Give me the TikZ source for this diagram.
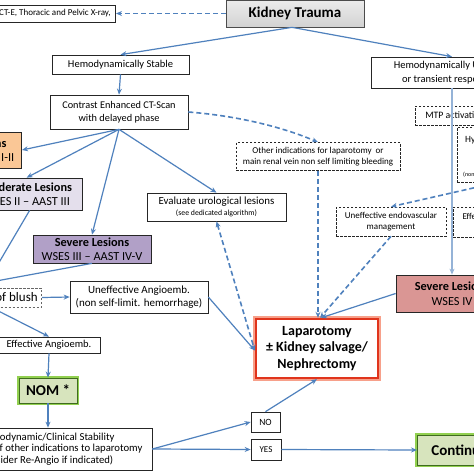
\documentclass[tikz,border=0pt]{standalone}
\usepackage{fontspec}
\setmainfont{Carlito}
\usetikzlibrary{arrows.meta}
\definecolor{arrblue}{HTML}{4F81BD}
\definecolor{arrlight}{HTML}{95B3D7}
\definecolor{peach}{HTML}{FAC796}
\definecolor{lav}{HTML}{E4DFEC}
\definecolor{purp}{HTML}{B1A0C7}
\definecolor{pinkr}{HTML}{DA9694}
\definecolor{gfill}{HTML}{D7E4BD}
\definecolor{gglow}{HTML}{92D050}
\definecolor{gborder}{HTML}{3F6B1F}
\definecolor{rborder}{HTML}{E0341C}
\definecolor{rglow}{HTML}{F7A08A}
\tikzset{
  box/.style={draw=black!85, line width=0.7pt, fill=white, align=center, inner sep=1pt,
    font=\fontsize{10.5}{12.5}\selectfont},
  dbox/.style={box, dash pattern=on 2.5pt off 1.5pt, line width=0.6pt},
  lesion/.style={box, font=\fontsize{12.3}{13.5}\selectfont},
  arr/.style={-{Stealth[length=6pt,width=5pt]}, line width=1.2pt, draw=arrblue},
  darr/.style={arr, dash pattern=on 5pt off 3pt, line width=1.6pt},
  ltarr/.style={-{Stealth[length=6pt,width=5pt]}, line width=1.2pt, draw=arrlight},
  greenbox/.style={box, fill=gfill, draw=gborder, line width=0.8pt,
    preaction={draw=gglow, line width=4.5pt},
    font=\bfseries\fontsize{15}{17}\selectfont},
  redbox/.style={box, draw=rborder, line width=2.4pt,
    preaction={draw=rglow, line width=6pt},
    font=\bfseries\fontsize{14}{16.5}\selectfont},
}
\begin{document}
\begin{tikzpicture}[x=1pt,y=-1pt]
\useasboundingbox (0,0) rectangle (474,474);
\clip (0,0) rectangle (474,474);
\fill[white] (0,0) rectangle (474,474);

% top
\node[box, top color=gray!15, bottom color=gray!35, draw=black!70, minimum width=138pt, minimum height=27pt,
  font=\bfseries\fontsize{15}{17}\selectfont] (kt) at (295,13.5) {Kidney Trauma};
\node[box, anchor=east, minimum height=17pt, inner xsep=5pt, font=\fontsize{9}{10}\selectfont]
  (tl) at (116,13.5) {E-FAST, CT-E, Thoracic and Pelvic X-ray,};
\node[box, minimum width=137pt, minimum height=19pt] (hs) at (120.5,64.5) {Hemodynamically Stable};
\node[box, minimum width=162pt, minimum height=31pt, font=\fontsize{10.5}{14}\selectfont] (hu) at (452,72.5) {Hemodynamically Unstable\\or transient responders};
\node[box, minimum width=138pt, minimum height=34pt, font=\fontsize{10.3}{13}\selectfont] (ct) at (119,112) {Contrast Enhanced CT-Scan\\with delayed phase};

% right dashed
\node[dbox, anchor=west, minimum height=19pt, inner xsep=10pt, font=\fontsize{9.8}{11}\selectfont]
  (mtp) at (415,115.5) {MTP activation};
\node[dbox, minimum width=164pt, minimum height=28pt, font=\fontsize{9}{10.5}\selectfont]
  (oi) at (318,156.5) {Other indications for laparotomy\ \ or\\main renal vein non self limiting bleeding};
\node[dbox, anchor=north west, minimum width=60pt, minimum height=55pt] (hy) at (457,127) {};
\node[anchor=west, inner sep=0pt, font=\fontsize{9.5}{10}\selectfont] (hyt) at (465,140) {Hybrid room};
\node[anchor=west, inner sep=0pt, font=\fontsize{6}{7}\selectfont] (hyn) at (463,175) {(non responders)};
\node[dbox, minimum width=110pt, minimum height=29pt, font=\fontsize{9}{10.5}\selectfont]
  (ue) at (391,221.5) {Uneffective endovascular\\management};
\node[dbox, anchor=west, minimum width=100pt, minimum height=30pt, font=\fontsize{9}{10.5}\selectfont]
  (ef) at (453,222) {Effective endovascular\\management};

% lesions
\node[lesion, anchor=east, fill=peach, minimum width=102pt, minimum height=36pt]
  (minor) at (22,150) {\textbf{Minor Lesions}\\WSES I – AAST I-II};
\node[lesion, anchor=east, fill=lav, minimum width=112pt, minimum height=32pt]
  (mod) at (83,194) {\textbf{Moderate Lesions}\\WSES II – AAST III};
\node[lesion, fill=purp, minimum width=118pt, minimum height=28pt]
  (sev) at (92,249) {\textbf{Severe Lesions}\\WSES III – AAST IV-V};
\node[box, minimum width=139pt, minimum height=28pt, font=\fontsize{10.9}{10.5}\selectfont]
  (ev) at (216.5,207) {Evaluate urological lesions\\{\fontsize{7.8}{8}\selectfont (see dedicated algorithm)}};
\node[lesion, fill=pinkr, minimum width=112pt, minimum height=37pt, font=\fontsize{12.3}{15}\selectfont]
  (sr) at (452,293.5) {\textbf{Severe Lesions}\\WSES IV};

% angio
\node[dbox, draw=black!60, anchor=east, minimum height=19pt, inner xsep=4pt, font=\fontsize{13}{14}\selectfont]
  (bl) at (42,297.5) {Presence of blush};
\node[box, minimum width=138pt, minimum height=32pt, font=\fontsize{11}{13}\selectfont]
  (ua) at (139,297) {Uneffective Angioemb.\\(non self-limit. hemorrhage)};
\node[box, minimum width=102pt, minimum height=16pt] (ea) at (49,345) {Effective Angioemb.};
\node[redbox, minimum width=122pt, minimum height=59pt] (lap) at (317,348.5) {Laparotomy\\± Kidney salvage/\\Nephrectomy};
\node[greenbox, minimum width=58pt, minimum height=25pt] (nom) at (48,390.5) {NOM *};
\node[box, minimum width=210pt, minimum height=42pt, font=\fontsize{10.7}{11.8}\selectfont]
  (st) at (47,449) {Hemodynamic/Clinical Stability\\(Absence of other indications to laparotomy\\consider Re-Angio if indicated)};
\node[box, minimum width=29pt, minimum height=20pt, font=\fontsize{9.5}{10}\selectfont] (no) at (265.5,422) {NO};
\node[box, minimum width=30pt, minimum height=21pt, font=\fontsize{9}{10}\selectfont] (yes) at (266,449.5) {YES};
\node[greenbox, anchor=west, minimum height=30pt, inner xsep=14pt] (cn) at (417,450) {Continue NOM};

\coordinate (cr) at (482,186);
\coordinate (cm) at (-16,288);
\coordinate (cs) at (-42,288);

% connectors
\draw[darr] (kt.west) -- (tl.east);
\draw[arr] ([xshift=-3pt]kt.south) -- (hs.north);
\draw[arr] ([xshift=-3pt]kt.south) -- (hu.north);
\draw[arr] (hs.south) -- (ct.north);
\draw[arr] (ct.south) -- (minor.east);
\draw[arr] (ct.south) -- (mod.north);
\draw[arr] (ct.south) -- (sev.north);
\draw[arr] (ct.south) -- (ev.north);
\draw[darr] (ct.east) .. controls (240,116) and (285,128) .. (oi.north);
\draw[darr] (oi.south) -- ([xshift=1pt]lap.north);
\draw[darr] (cr) -- (ue.north);
\draw[darr] (ue.south) -- ([xshift=3pt]lap.north);
\draw[arr] (sr.west) -- ([xshift=4pt]lap.north);
\draw[darr, {Stealth[length=6pt,width=5pt]}-{Stealth[length=6pt,width=5pt]}] (ev.south) -- ([yshift=-2pt]lap.west);
\draw[arr] ([xshift=3pt]mod.south) -- (cm);
\draw[arr] (sev.south) -- (cs);
\draw[arr] (bl.east) -- (ua.west);
\draw[arr] (bl.south) -- (ea.north);
\draw[arr] (ua.east) -- ([yshift=-2pt]lap.west);
\draw[arr] (ea.south) -- (nom.north);
\draw[arr] (nom.south) -- (nom.south |- st.north);
\draw[arr] (st.east) -- (no.west);
\draw[arr] (st.east) -- (yes.west);
\draw[arr] (no.north) -- (lap.south);
\draw[arr] (yes.east) -- (cn.west);
\draw[ltarr] (hu.south) -- (sr.north);
\end{tikzpicture}
\end{document}
